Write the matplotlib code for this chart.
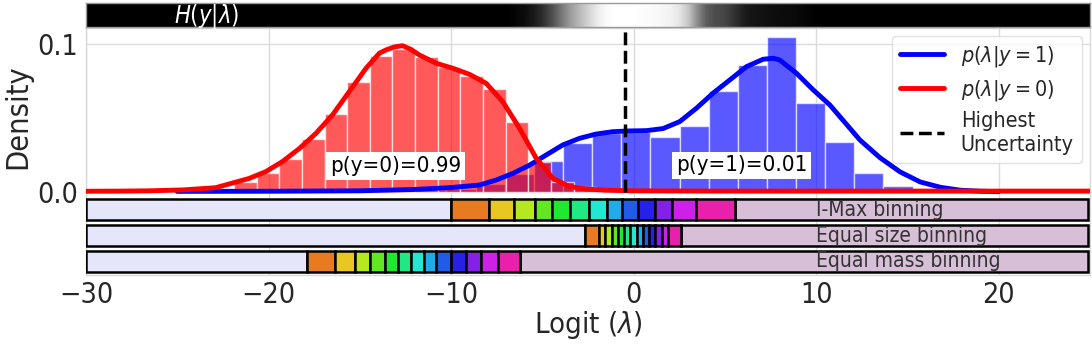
import numpy as np
import matplotlib
matplotlib.use("Agg")
import matplotlib.pyplot as plt

# ---------------- data ----------------
red_edges = [-24.37, -23.13, -21.89, -20.65, -19.41, -18.17, -16.93, -15.69, -14.45,
             -13.21, -11.97, -10.73, -9.49, -8.25, -7.01, -5.77, -4.53, -3.29, -2.05]
red_heights = [0.0008, 0.002, 0.0068, 0.0125, 0.022, 0.036, 0.0525, 0.0742, 0.0923,
               0.097, 0.091, 0.0848, 0.0785, 0.0695, 0.0475, 0.0204, 0.0068, 0.003]

blue_edges = [-11.86, -10.26, -8.66, -7.06, -5.47, -3.88, -2.29, -0.67, 0.92, 2.52,
              4.11, 5.72, 7.31, 8.87, 10.48, 12.08, 13.68, 15.28]
blue_heights = [0.001, 0.002, 0.005, 0.012, 0.0208, 0.0328, 0.0396, 0.0407, 0.0369,
                0.0448, 0.0683, 0.086, 0.1047, 0.0604, 0.0335, 0.013, 0.004]

red_kde_x = [-30, -28, -26.5, -24.7, -22.9, -21.06, -20.15, -19.24, -18.3, -17.4, -16.5,
             -15.58, -14.66, -13.93, -13.57, -13.1, -12.66, -12.2, -11.74, -10.82, -9.91,
             -9.0, -8.08, -7.17, -6.25, -5.34, -4.43, -3.51, -2.6, -1.5, 0, 5, 25]
red_kde_y = [0.0003, 0.0004, 0.0006, 0.0012, 0.0027, 0.009, 0.0136, 0.0204, 0.0294, 0.0396,
             0.052, 0.0678, 0.0837, 0.0939, 0.0961, 0.0982, 0.0990, 0.0965, 0.0927, 0.0871,
             0.0837, 0.0796, 0.0735, 0.061, 0.043, 0.0227, 0.0091, 0.0034, 0.0018, 0.001,
             0.0006, 0.0004, 0.0004]

blue_kde_x = [-25, -20, -15, -12, -10, -8.45, -7.53, -6.62, -5.7, -4.79, -3.88, -2.96, -2.05,
              -1.14, -0.22, 0.7, 1.61, 2.52, 3.44, 4.35, 5.27, 6.18, 7.09, 7.64, 8.0, 8.92,
              9.84, 10.75, 12.4, 13.5, 14.6, 15.7, 16.8, 17.9, 19, 20]
blue_kde_y = [0.0002, 0.0003, 0.0006, 0.0015, 0.0028, 0.0045, 0.0079, 0.0124, 0.018, 0.0249,
              0.0317, 0.0362, 0.0391, 0.0407, 0.0412, 0.0414, 0.0428, 0.0475, 0.0566, 0.0668,
              0.0758, 0.0848, 0.0898, 0.0905, 0.0893, 0.0803, 0.069, 0.0588, 0.035, 0.023,
              0.0134, 0.0066, 0.003, 0.001, 0.0003, 0.0]

highest_uncertainty = -0.5

entropy_x = [-30, -7.0, -6.5, -6, -5.5, -5, -4.5, -4, -3.5, -3, -2.5, -2, -1.5, -1, -0.5, 0,
             0.5, 1, 1.5, 2, 2.5, 3, 3.5, 4, 4.5, 5, 5.5, 6, 6.5, 7, 8, 9, 10, 25]
entropy_h = [0.0, 0.0, 0.02, 0.05, 0.1, 0.18, 0.3, 0.45, 0.6, 0.72, 0.82, 0.92, 0.98, 1.0,
             1.0, 1.0, 0.99, 0.98, 0.97, 0.95, 0.9, 0.78, 0.55, 0.36, 0.3, 0.27, 0.2, 0.12,
             0.08, 0.07, 0.05, 0.04, 0.0, 0.0]

imax_edges = [-10.0, -7.9, -6.53, -5.43, -4.46, -3.47, -2.45, -1.46, -0.64, 0.24, 1.15,
              2.12, 3.44, 5.54]
equal_size_edges = [-2.65, -1.90, -1.55, -1.21, -0.87, -0.52, -0.18, 0.16, 0.50, 0.85,
                    1.19, 1.53, 1.88, 2.61]
equal_mass_edges = [-17.9, -16.35, -15.25, -14.43, -13.6, -12.93, -12.2, -11.46, -10.82,
                     -10.0, -9.18, -8.35, -7.44, -6.22]
row_labels = ["I-Max binning", "Equal size binning", "Equal mass binning"]

bin_colors = ["#E87A20", "#E8C720", "#B6E820", "#63E820", "#20E831", "#20E884", "#20E8D1",
              "#20ACE8", "#205CE8", "#2720E8", "#8420E8", "#CD20E8", "#E820AC"]

annot_y0 = "p(y=0)=0.99"
annot_y1 = "p(y=1)=0.01"

# ---------------- figure ----------------
plt.rcParams['font.family'] = ['DejaVu Sans']
plt.rcParams['font.stretch'] = 'condensed'
plt.rcParams['mathtext.fontset'] = 'dejavusans'
TXT = '0.15'

fig = plt.figure(figsize=(10.92, 3.45), dpi=100)
L, R = 86 / 1092, 1090 / 1092
ax = fig.add_axes([L, 70 / 345, R - L, 247 / 345])
axh = fig.add_axes([L, 318 / 345, R - L, 24 / 345])

XMIN, XMAX = -30, 25
YMIN, YMAX = -0.0565, 0.111

# entropy bar
ex = np.array(entropy_x)
eh = np.array(entropy_h)
grid_x = np.linspace(XMIN, XMAX, 1100)
img = np.interp(grid_x, ex, eh)[None, :]
axh.imshow(img, extent=[XMIN, XMAX, 0, 1], aspect='auto', cmap='gray', vmin=0, vmax=1,
           interpolation='bilinear')
axh.set_xlim(XMIN, XMAX)
axh.set_ylim(0, 1)
axh.set_xticks([])
axh.set_yticks([])
for s in axh.spines.values():
    s.set_color('0.6')
    s.set_linewidth(1)
axh.text(-23.4, 0.45, r'$H(y|\lambda)$', color='white', fontsize=17, ha='center', va='center')

# main axes styling
ax.set_facecolor('white')
ax.set_axisbelow(True)
ax.grid(True, color='0.86', lw=1)
for s in ax.spines.values():
    s.set_color('0.85')
    s.set_linewidth(1)

# histograms
be = np.array(blue_edges)
ax.bar(be[:-1], blue_heights, width=np.diff(be), align='edge', color='blue', alpha=0.65,
       edgecolor='white', linewidth=1)
re = np.array(red_edges)
ax.bar(re[:-1], red_heights, width=np.diff(re), align='edge', color='red', alpha=0.65,
       edgecolor='white', linewidth=1)

# KDE curves
ax.plot(blue_kde_x, blue_kde_y, color='blue', lw=3.5, solid_joinstyle='round',
        solid_capstyle='round', label=r'$p(\lambda|y=1)$', zorder=4)
ax.plot(red_kde_x, red_kde_y, color='red', lw=3.5, solid_joinstyle='round',
        solid_capstyle='round', label=r'$p(\lambda|y=0)$', zorder=4)
ax.plot([highest_uncertainty, highest_uncertainty], [0, YMAX], color='black', ls='--',
        lw=2.5, label='Highest\nUncertainty', zorder=5)

# annotations
bbox = dict(facecolor='white', edgecolor='none', pad=2.5)
ax.text(-13.05, 0.0174, annot_y0, fontsize=16, ha='center', va='center', color='black',
        bbox=bbox, zorder=6)
ax.text(5.9, 0.018, annot_y1, fontsize=16, ha='center', va='center', color='black',
        bbox=bbox, zorder=6)

# binning rows
row_centers = [-0.0121, -0.0300, -0.0473]
row_h = 0.0143
for edges, yc, lab in zip([imax_edges, equal_size_edges, equal_mass_edges], row_centers,
                          row_labels):
    e = np.array(edges)
    ax.barh(yc, e[0] - XMIN, left=XMIN, height=row_h, color='lavender', edgecolor='black',
            linewidth=1.8, zorder=3)
    ax.barh(yc, XMAX - 0.12 - e[-1], left=e[-1], height=row_h, color='thistle',
            edgecolor='black', linewidth=1.8, zorder=3)
    ax.barh([yc] * (len(e) - 1), np.diff(e), left=e[:-1], height=row_h, color=bin_colors,
            edgecolor='black', linewidth=1.8, zorder=3)
    ax.text(10.0, yc, lab, fontsize=15, color='0.2', ha='left', va='center', zorder=6)

ax.set_xlim(XMIN, XMAX)
ax.set_ylim(YMIN, YMAX)
ax.set_xticks([-30, -20, -10, 0, 10, 20])
ax.set_yticks([0.0, 0.1])
ax.set_yticklabels(['0.0', '0.1'])
ax.tick_params(axis='both', length=0, labelsize=20.5, colors=TXT, pad=6)
ax.tick_params(axis='x', pad=4)
ax.set_xlabel(r'Logit ($\lambda$)', fontsize=21, color=TXT, labelpad=0)
ax.set_ylabel('Density', fontsize=22, color=TXT, labelpad=4)
ax.yaxis.set_label_coords(-0.054, 0.64)

leg = ax.legend(loc='upper right', fontsize=15.5, handlelength=2.0, frameon=True,
                framealpha=0.8, edgecolor='0.85', borderaxespad=0.35, labelspacing=0.4)
for t in leg.get_texts():
    t.set_color(TXT)
leg.set_zorder(7)

fig.savefig('out.png', dpi=100)
